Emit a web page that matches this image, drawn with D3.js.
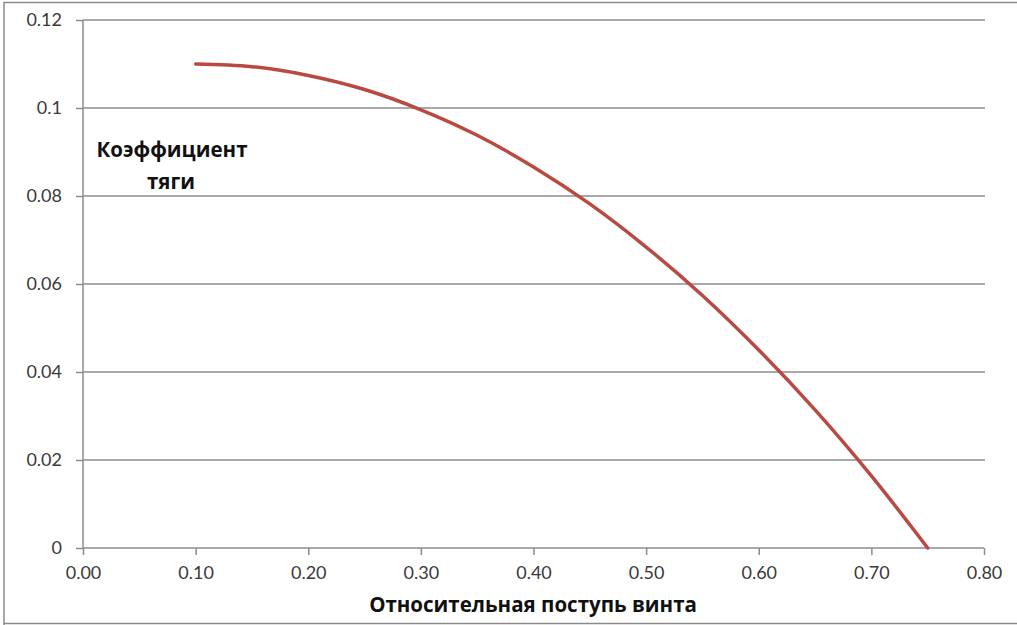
<!DOCTYPE html>
<html lang="ru">
<head>
  <meta charset="UTF-8">
  <title>Коэффициент тяги</title>
  <style>
    body { margin: 0; background: #fff; }
    #grafico { display: block; }
    .tick text { font-family: Lato, "Open Sans", sans-serif; font-size: 18px; fill: #3a3a3a; }
    .titulo { font-family: "Open Sans", Lato, sans-serif; font-weight: bold; font-size: 20.5px; fill: #111; }
  </style>
</head>
<body>
  <svg id="grafico"></svg>

  <script src="https://d3js.org/d3.v7.min.js"></script>
  <script>
    // valores
    const advance = [0.10, 0.15, 0.20, 0.25, 0.30, 0.35, 0.40, 0.45, 0.50, 0.55, 0.60, 0.65, 0.70, 0.75];
    const thrust = [0.1100, 0.1094, 0.1074, 0.1042, 0.0996, 0.0938, 0.0866, 0.0782, 0.0684, 0.0574, 0.0450, 0.0314, 0.0164, 0.0];
    const xTicks = [0, 0.1, 0.2, 0.3, 0.4, 0.5, 0.6, 0.7, 0.8];
    const yTicks = [0, 0.02, 0.04, 0.06, 0.08, 0.1, 0.12];
    const yLabels = ['0', '0.02', '0.04', '0.06', '0.08', '0.1', '0.12'];

    function executa() {
      const largura = 1017, altura = 625;
      const svg = d3.select('#grafico').attr('width', largura).attr('height', altura);
      const esq = 83, dir = 984, topo = 20, base = 548;

      // moldura
      svg.append('path')
        .attr('d', `M4,${altura} L4,2.5 L${largura},2.5 M4,623.5 L${largura},623.5`)
        .attr('fill', 'none').attr('stroke', '#8a8a8a').attr('stroke-width', 1.5);

      const x = d3.scaleLinear().domain([0, 0.8]).range([esq, dir]);
      const y = d3.scaleLinear().domain([0, 0.12]).range([base, topo]);

      // grade
      svg.append('g').selectAll('line')
        .data(yTicks.slice(1))
        .enter().append('line')
        .attr('x1', esq).attr('x2', dir + 1)
        .attr('y1', d => y(d)).attr('y2', d => y(d))
        .attr('stroke', '#8c8c8c').attr('stroke-width', 1.5);

      const eixoY = svg.append('g')
        .attr('transform', `translate(${esq},0)`)
        .call(d3.axisLeft(y).tickValues(yTicks).tickFormat((d, i) => yLabels[i]).tickSize(7).tickPadding(14));

      const eixoX = svg.append('g')
        .attr('transform', `translate(0,${base})`)
        .call(d3.axisBottom(x).tickValues(xTicks).tickFormat(d3.format('.2f')).tickSize(7).tickPadding(11));

      [eixoY, eixoX].forEach(g => {
        g.select('.domain').attr('stroke', '#8c8c8c').attr('stroke-width', 1.5);
        g.selectAll('.tick line').attr('stroke', '#8c8c8c').attr('stroke-width', 1.5);
      });
      eixoY.select('.domain').attr('d', `M0,${topo}V${base}`);
      eixoX.select('.domain').attr('d', `M${esq},0H${dir}`);

      // curva
      const linha = d3.line()
        .x((d, i) => x(advance[i]))
        .y(d => y(d))
        .curve(d3.curveCatmullRom);

      svg.append('path')
        .datum(thrust)
        .attr('d', linha)
        .attr('fill', 'none')
        .attr('stroke', '#b94a42')
        .attr('stroke-width', 3.5)
        .attr('stroke-linecap', 'round');

      // títulos
      svg.append('text').classed('titulo', true)
        .attr('x', 533).attr('y', 612).attr('text-anchor', 'middle')
        .text('Относительная поступь винта');

      const ty = svg.append('text').classed('titulo', true).attr('text-anchor', 'middle');
      ty.append('tspan').attr('x', 172).attr('y', 157).text('Коэффициент');
      ty.append('tspan').attr('x', 171).attr('y', 189).text('тяги');
    }

    executa();
  </script>
</body>
</html>
